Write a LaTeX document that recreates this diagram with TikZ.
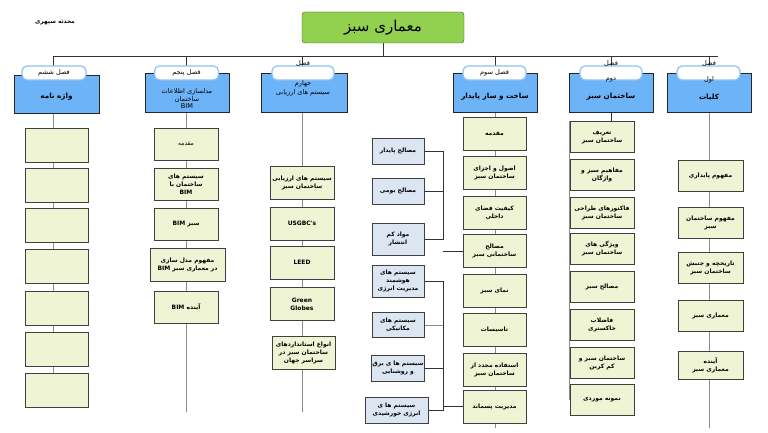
\documentclass[tikz,border=0pt]{standalone}
\usepackage{fontspec}
\newfontfamily\arabicfont[Script=Arabic]{DejaVu Sans}
\TeXXeTstate=1
\usetikzlibrary{backgrounds}
\definecolor{chblue}{HTML}{6DB3F7}
\definecolor{tabblue}{HTML}{8EC3F2}
\definecolor{gfill}{HTML}{EEF4D4}
\definecolor{sfill}{HTML}{DCE6F2}
\definecolor{tgreen}{HTML}{92D050}
\newcommand\fa[1]{\beginR#1\endR}
\newcommand\la[1]{\beginL#1\endL}
\newcommand\B[7]{\node[#2,minimum width=#5pt,minimum height=#6pt] (#1) at (#3,#4) {#7};}
\begin{document}
\begin{tikzpicture}[x=1pt,y=-1pt,
 gbox/.style={draw=black!75,line width=0.8pt,fill=gfill,align=center,inner sep=1pt,
   font=\arabicfont\bfseries\fontsize{6}{8}\selectfont},
 sbox/.style={gbox,fill=sfill},
 chbox/.style={draw=black!85,line width=1pt,fill=chblue,inner sep=1pt},
 tabbox/.style={draw=tabblue,line width=1.2pt,fill=white,rounded corners=5pt,inner sep=0pt,
   font=\arabicfont\fontsize{6.6}{7}\selectfont},
 lbl/.style={inner sep=0pt,align=center,font=\arabicfont\fontsize{6.6}{8.5}\selectfont},
 blbl/.style={lbl,font=\arabicfont\bfseries\fontsize{7.2}{8.5}\selectfont},
 ln/.style={draw=black!45,line width=0.8pt},
 dk/.style={draw=black!80,line width=0.7pt}]
\useasboundingbox (0,0) rectangle (768,433);
% title
\node[draw=black!60!tgreen,fill=tgreen,rounded corners=3pt,minimum width=162pt,minimum height=31pt,
  font=\arabicfont\fontsize{15}{17}\selectfont] (title) at (383,27.5) {\fa{معماری سبز}};
\node[inner sep=0pt,font=\arabicfont\bfseries\fontsize{5.8}{6}\selectfont] (auth) at (55,22) {\fa{محدثه سپهری}};
% top line coordinates
\coordinate (t6) at (53,56); \coordinate (t5) at (186,56); \coordinate (t4) at (302,56);
\coordinate (t3) at (495,56); \coordinate (t2) at (611,56); \coordinate (t1) at (709,56);
\coordinate (tend) at (718,56); \coordinate (tm) at (383,56);
% chapters
\B{ch6}{chbox}{56.5}{95}{85}{38}{}
\B{ch5}{chbox}{187}{93.5}{84}{39}{}
\B{ch4}{chbox}{304}{93.5}{86}{39}{}
\B{ch3}{chbox}{495}{93.5}{84}{39}{}
\B{ch2}{chbox}{611}{93.5}{84}{39}{}
\B{ch1}{chbox}{709}{93.5}{84}{39}{}
\B{tb6}{tabbox}{54}{73}{64}{14}{\fa{فصل ششم}}
\B{tb5}{tabbox}{186.5}{73}{64}{14}{\fa{فصل پنجم}}
\B{tb4}{tabbox}{303}{73}{62}{14}{}
\B{tb3}{tabbox}{494.5}{73}{63}{14}{\fa{فصل سوم}}
\B{tb2}{tabbox}{611}{73}{62}{14}{}
\B{tb1}{tabbox}{708.5}{73}{63}{14}{}
\node[blbl] (l6) at (56.5,97) {\fa{واژه نامه}};
\node[lbl,font=\arabicfont\fontsize{6.6}{7.4}\selectfont] (l5) at (187,98.5) {\fa{مدلسازی اطلاعات}\\\fa{ساختمان}\\\la{BIM}};
\node[lbl] (l4a) at (303,63) {\fa{فصل}};
\node[lbl] (l4) at (303,88.5) {\fa{جهارم}\\\fa{سیستم های ارزیابی}};
\node[blbl] (l3) at (495,97) {\fa{ساخت و ساز پایدار}};
\node[lbl] (l2a) at (611,63) {\fa{فصل}};
\node[lbl] (l2b) at (611,80) {\fa{دوم}};
\node[blbl] (l2) at (611,97) {\fa{ساختمان سبز}};
\node[lbl] (l1a) at (709,63) {\fa{فصل}};
\node[lbl] (l1b) at (709,80) {\fa{اول}};
\node[blbl] (l1) at (709,97) {\fa{کلیات}};
% ch6 column
\B{a1}{gbox}{56.5}{145}{63}{34}{}
\B{a2}{gbox}{56.5}{185}{63}{34}{}
\B{a3}{gbox}{56.5}{225}{63}{34}{}
\B{a4}{gbox}{56.5}{266.5}{63}{34}{}
\B{a5}{gbox}{56.5}{308}{63}{34}{}
\B{a6}{gbox}{56.5}{349}{63}{34}{}
\B{a7}{gbox}{56.5}{390}{63}{34}{}
% ch5 column
\B{b1}{gbox}{186}{144}{64}{32}{\mdseries\fa{مقدمه}}
\B{b2}{gbox}{186}{184}{64}{32}{\fa{سیستم های}\\\fa{ساختمان با}\\\la{BIM}}
\B{b3}{gbox}{186}{224}{64}{32}{\fa{سبز \la{BIM}}}
\B{b4}{gbox}{187.5}{264.5}{75}{33}{\fa{مفهوم مدل سازی}\\\fa{در معماری سبز \la{BIM}}}
\B{b5}{gbox}{186}{307}{64}{32}{\fa{آینده \la{BIM}}}
% ch4 column
\B{c1}{gbox}{302}{182.5}{64}{33}{\fa{سیستم های ارزیابی}\\\fa{ساختمان سبز}}
\B{c2}{gbox}{302}{223.5}{64}{33}{\la{USGBC's}}
\B{c3}{gbox}{302}{262.5}{64}{33}{\la{LEED}}
\B{c4}{gbox}{302}{304}{64}{33}{\la{Green}\\\la{Globes}}
\B{c5}{gbox}{303.5}{352.5}{63}{33}{\fa{انواع استانداردهای}\\\fa{ساختمان سبز در}\\\fa{سراسر جهان}}
% ch3 column
\B{m1}{gbox}{494.5}{133.5}{63}{33}{\fa{مقدمه}}
\B{m2}{gbox}{494.5}{172.5}{63}{33}{\fa{اصول و اجزای}\\\fa{ساختمان سبز}}
\B{m3}{gbox}{494.5}{212.5}{63}{33}{\fa{کیفیت فضای}\\\fa{داخلی}}
\B{m4}{gbox}{494.5}{251}{63}{33}{\fa{مصالح}\\\fa{ساختمانی سبز}}
\B{m5}{gbox}{494.5}{290.5}{63}{33}{\fa{نمای سبز}}
\B{m6}{gbox}{494.5}{330}{63}{33}{\fa{تاسیسات}}
\B{m7}{gbox}{494.5}{369.5}{63}{33}{\fa{استفاده مجدد از}\\\fa{ساختمان سبز}}
\B{m8}{gbox}{494.5}{406.5}{63}{33}{\fa{مدیریت پسماند}}
% side boxes
\B{s1}{sbox}{398}{151}{52}{26}{\fa{مصالح پایدار}}
\B{s2}{sbox}{398}{191}{52}{26}{\fa{مصالح بومی}}
\B{s3}{sbox}{398}{239}{52}{32}{\fa{مواد کم}\\\fa{انتشار}}
\B{s4}{sbox}{398}{281}{52}{32}{\fa{سیستم های}\\\fa{هوشمند}\\\fa{مدیریت انرژی}}
\B{s5}{sbox}{398}{325}{52}{25}{\fa{سیستم های}\\\fa{مکانیکی}}
\B{s6}{sbox}{398}{368}{52}{26}{\fa{سیستم ها ی برق}\\\fa{و روشنایی}}
\B{s7}{sbox}{396.5}{410}{63}{26}{\fa{سیستم ها ی}\\\fa{انرژی خورشیدی}}
% ch2 column
\B{d1}{gbox}{602}{137}{64}{31}{\fa{تعریف}\\\fa{ساختمان سبز}}
\B{d2}{gbox}{602}{174.5}{64}{31}{\fa{مفاهیم سبز و}\\\fa{واژگان}}
\B{d3}{gbox}{602}{212.5}{64}{31}{\fa{فاکتورهای طراحی}\\\fa{ساختمان سبز}}
\B{d4}{gbox}{602}{249}{64}{31}{\fa{ویژگی های}\\\fa{ساختمان سبز}}
\B{d5}{gbox}{602}{287}{64}{31}{\fa{مصالح سبز}}
\B{d6}{gbox}{602}{324.5}{64}{31}{\fa{فاضلاب}\\\fa{خاکستری}}
\B{d7}{gbox}{602}{362.5}{64}{31}{\fa{ساختمان سبز و}\\\fa{کم کربن}}
\B{d8}{gbox}{602}{400}{64}{31}{\fa{نمونه موردی}}
% ch1 column
\B{e1}{gbox}{710.5}{176}{65}{31}{\fa{مفهوم پایداری}}
\B{e2}{gbox}{710.5}{222.5}{65}{31}{\fa{مفهوم ساختمان}\\\fa{سبز}}
\B{e3}{gbox}{710.5}{268}{65}{31}{\fa{تاریخچه و جنبش}\\\fa{ساختمان سبز}}
\B{e4}{gbox}{710.5}{315.5}{65}{31}{\fa{معماری سبز}}
\B{e5}{gbox}{710.5}{365.5}{65}{28}{\fa{آینده}\\\fa{معماری سبز}}
\coordinate (k1) at (443,0);
\coordinate (z5) at (186,412); \coordinate (z4) at (302,412); \coordinate (z3) at (495,428);
\coordinate (z1) at (709,428); \coordinate (z6) at (53,407);
\begin{scope}[on background layer]
\fill[white] (0,0) rectangle (768,433);
\draw[dk] (t6) -- (tend);
\draw[dk] (title.south) -- (tm);
\draw[dk] (t6) -- (t6 |- ch6.north);
\draw[dk] (t5) -- (t5 |- ch5.north);
\draw[dk] (t4) -- (t4 |- ch4.north);
\draw[dk] (t3) -- (t3 |- ch3.north);
\draw[dk] (t2) -- (t2 |- ch2.north);
\draw[dk] (t1) -- (t1 |- ch1.north);
\draw[ln] (ch6.south -| t6) -- (z6);
\draw[ln] (ch5.south -| t5) -- (z5);
\draw[ln] (ch4.south -| t4) -- (z4);
\draw[ln] (ch3.south -| t3) -- (z3);
\draw[ln] (ch1.south -| t1) -- (z1);
\draw[dk] (ch2.south) -- (ch2.south |- d1.north);
\draw[ln] (d1.north west) -- (d1.north west |- d8.west);
\draw[dk] (s1.east) -- (s1.east -| k1) -- (s3.east -| k1) -- (s3.east);
\draw[dk] (s2.east) -- (s2.east -| k1);
\draw[dk] (k1 |- m4.west) -- (m4.west);
\draw[dk] (s4.east) -- (s4.east -| k1) -- (s7.east -| k1) -- (s7.east);
\draw[ln] (s5.east) -- (s5.east -| k1);
\draw[dk] (s6.east) -- (s6.east -| k1);
\draw[dk] (k1 |- m8.west) -- (m8.west);
\end{scope}
\end{tikzpicture}
\end{document}
